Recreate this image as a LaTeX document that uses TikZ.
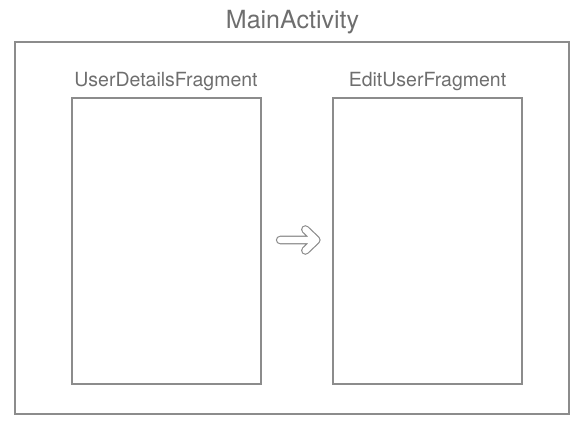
\documentclass[tikz,border=0pt]{standalone}
\usepackage{fontspec}
\setmainfont{TeX Gyre Heros}
\definecolor{linegray}{HTML}{8C8C8C}
\definecolor{textgray}{HTML}{6E6E6E}
\begin{document}
\begin{tikzpicture}[x=1pt, y=-1pt,
    frame/.style={draw=linegray, line width=1.3pt, inner sep=0pt},
    caption/.style={text=textgray, anchor=base, inner sep=0pt},
    flow/.style={draw=linegray, line width=1.2pt, double, double distance=6.2pt, line cap=round, line join=round}]
    \useasboundingbox (0,0) rectangle (585,427);
    % Activity
    \node[frame, minimum width=554pt, minimum height=372pt] (main) at (292, 228) {};
    \node[caption, font=\fontsize{25}{29}\selectfont] (mainlabel) at (292.5, 29) {MainActivity};
    % Fragments
    \node[frame, minimum width=189pt, minimum height=286pt] (details) at (166.5, 241) {};
    \node[frame, minimum width=189pt, minimum height=286pt] (edit) at (427.5, 241) {};
    % Labels
    \node[caption, font=\fontsize{19.5}{23}\selectfont] (detailslabel) at (166, 87) {UserDetailsFragment};
    \node[caption, font=\fontsize{19.5}{23}\selectfont] (editlabel) at (427.5, 87) {EditUserFragment};
    % Transition
    \coordinate (tail) at ([xshift=18.5pt, yshift=1pt]details.east);
    \coordinate (head) at ([xshift=-16pt, yshift=1pt]edit.west);
    \draw[flow] (tail) -- (head) ++(-11,-10.5) -- (head) -- ++(-11,10.5);
\end{tikzpicture}
\end{document}
